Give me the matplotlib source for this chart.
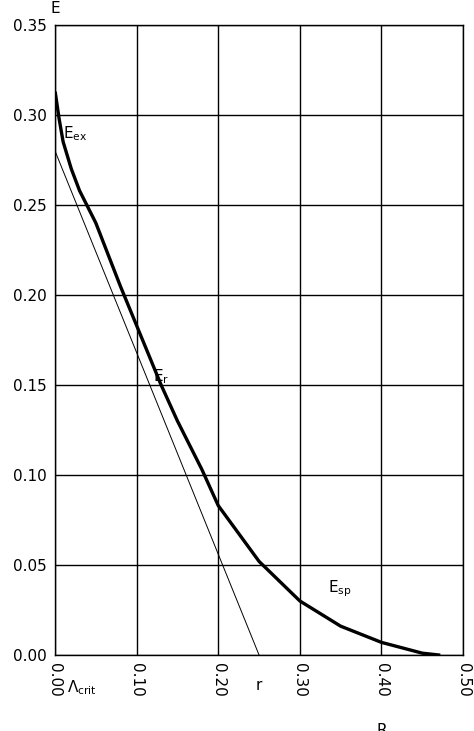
import matplotlib
matplotlib.use("Agg")
import matplotlib.pyplot as plt

R = [0.0005, 0.005, 0.01, 0.02, 0.03, 0.05, 0.08, 0.10, 0.13, 0.15, 0.18, 0.20,
     0.25, 0.30, 0.35, 0.40, 0.45, 0.47]
E = [0.312, 0.298, 0.285, 0.270, 0.258, 0.240, 0.205, 0.183, 0.150, 0.130,
     0.103, 0.083, 0.052, 0.030, 0.016, 0.007, 0.001, 0.0]
tang_x = [0.0, 0.25]
tang_y = [0.28, 0.0]
xticks = [0.0, 0.1, 0.2, 0.3, 0.4, 0.5]
yticks = [0.0, 0.05, 0.10, 0.15, 0.20, 0.25, 0.30, 0.35]

fig = plt.figure(figsize=(4.74, 7.31), dpi=100)
ax = fig.add_axes([0.116, 0.104, 0.861, 0.862])
ax.plot(R, E, color="black", lw=2.4)
ax.plot(tang_x, tang_y, color="black", lw=0.7)
ax.set_xlim(0, 0.5)
ax.set_ylim(0, 0.35)
ax.set_xticks(xticks)
ax.set_xticklabels([f"{v:.2f}" for v in xticks], rotation=-90, fontsize=11)
ax.set_yticks(yticks)
ax.set_yticklabels([f"{v:.2f}" for v in yticks], fontsize=11)
ax.tick_params(length=0, pad=6)
ax.grid(True, color="black", lw=1.0)
for s in ax.spines.values():
    s.set_linewidth(1.0)
ax.text(0.01, 0.287, r"E$_{\rm ex}$", fontsize=11)
ax.text(0.12, 0.152, r"E$_{\rm r}$", fontsize=11)
ax.text(0.335, 0.035, r"E$_{\rm sp}$", fontsize=11)
ax.text(-0.005, 0.355, "E", fontsize=11, ha="left", va="bottom")
ax.text(0.015, -0.013, r"$\Lambda_{\rm crit}$", fontsize=11, va="top", ha="left")
ax.text(0.25, -0.013, "r", fontsize=11, va="top", ha="center")
ax.text(0.4, -0.038, "R", fontsize=11, va="top", ha="center")
fig.savefig("out.png", dpi=100)
